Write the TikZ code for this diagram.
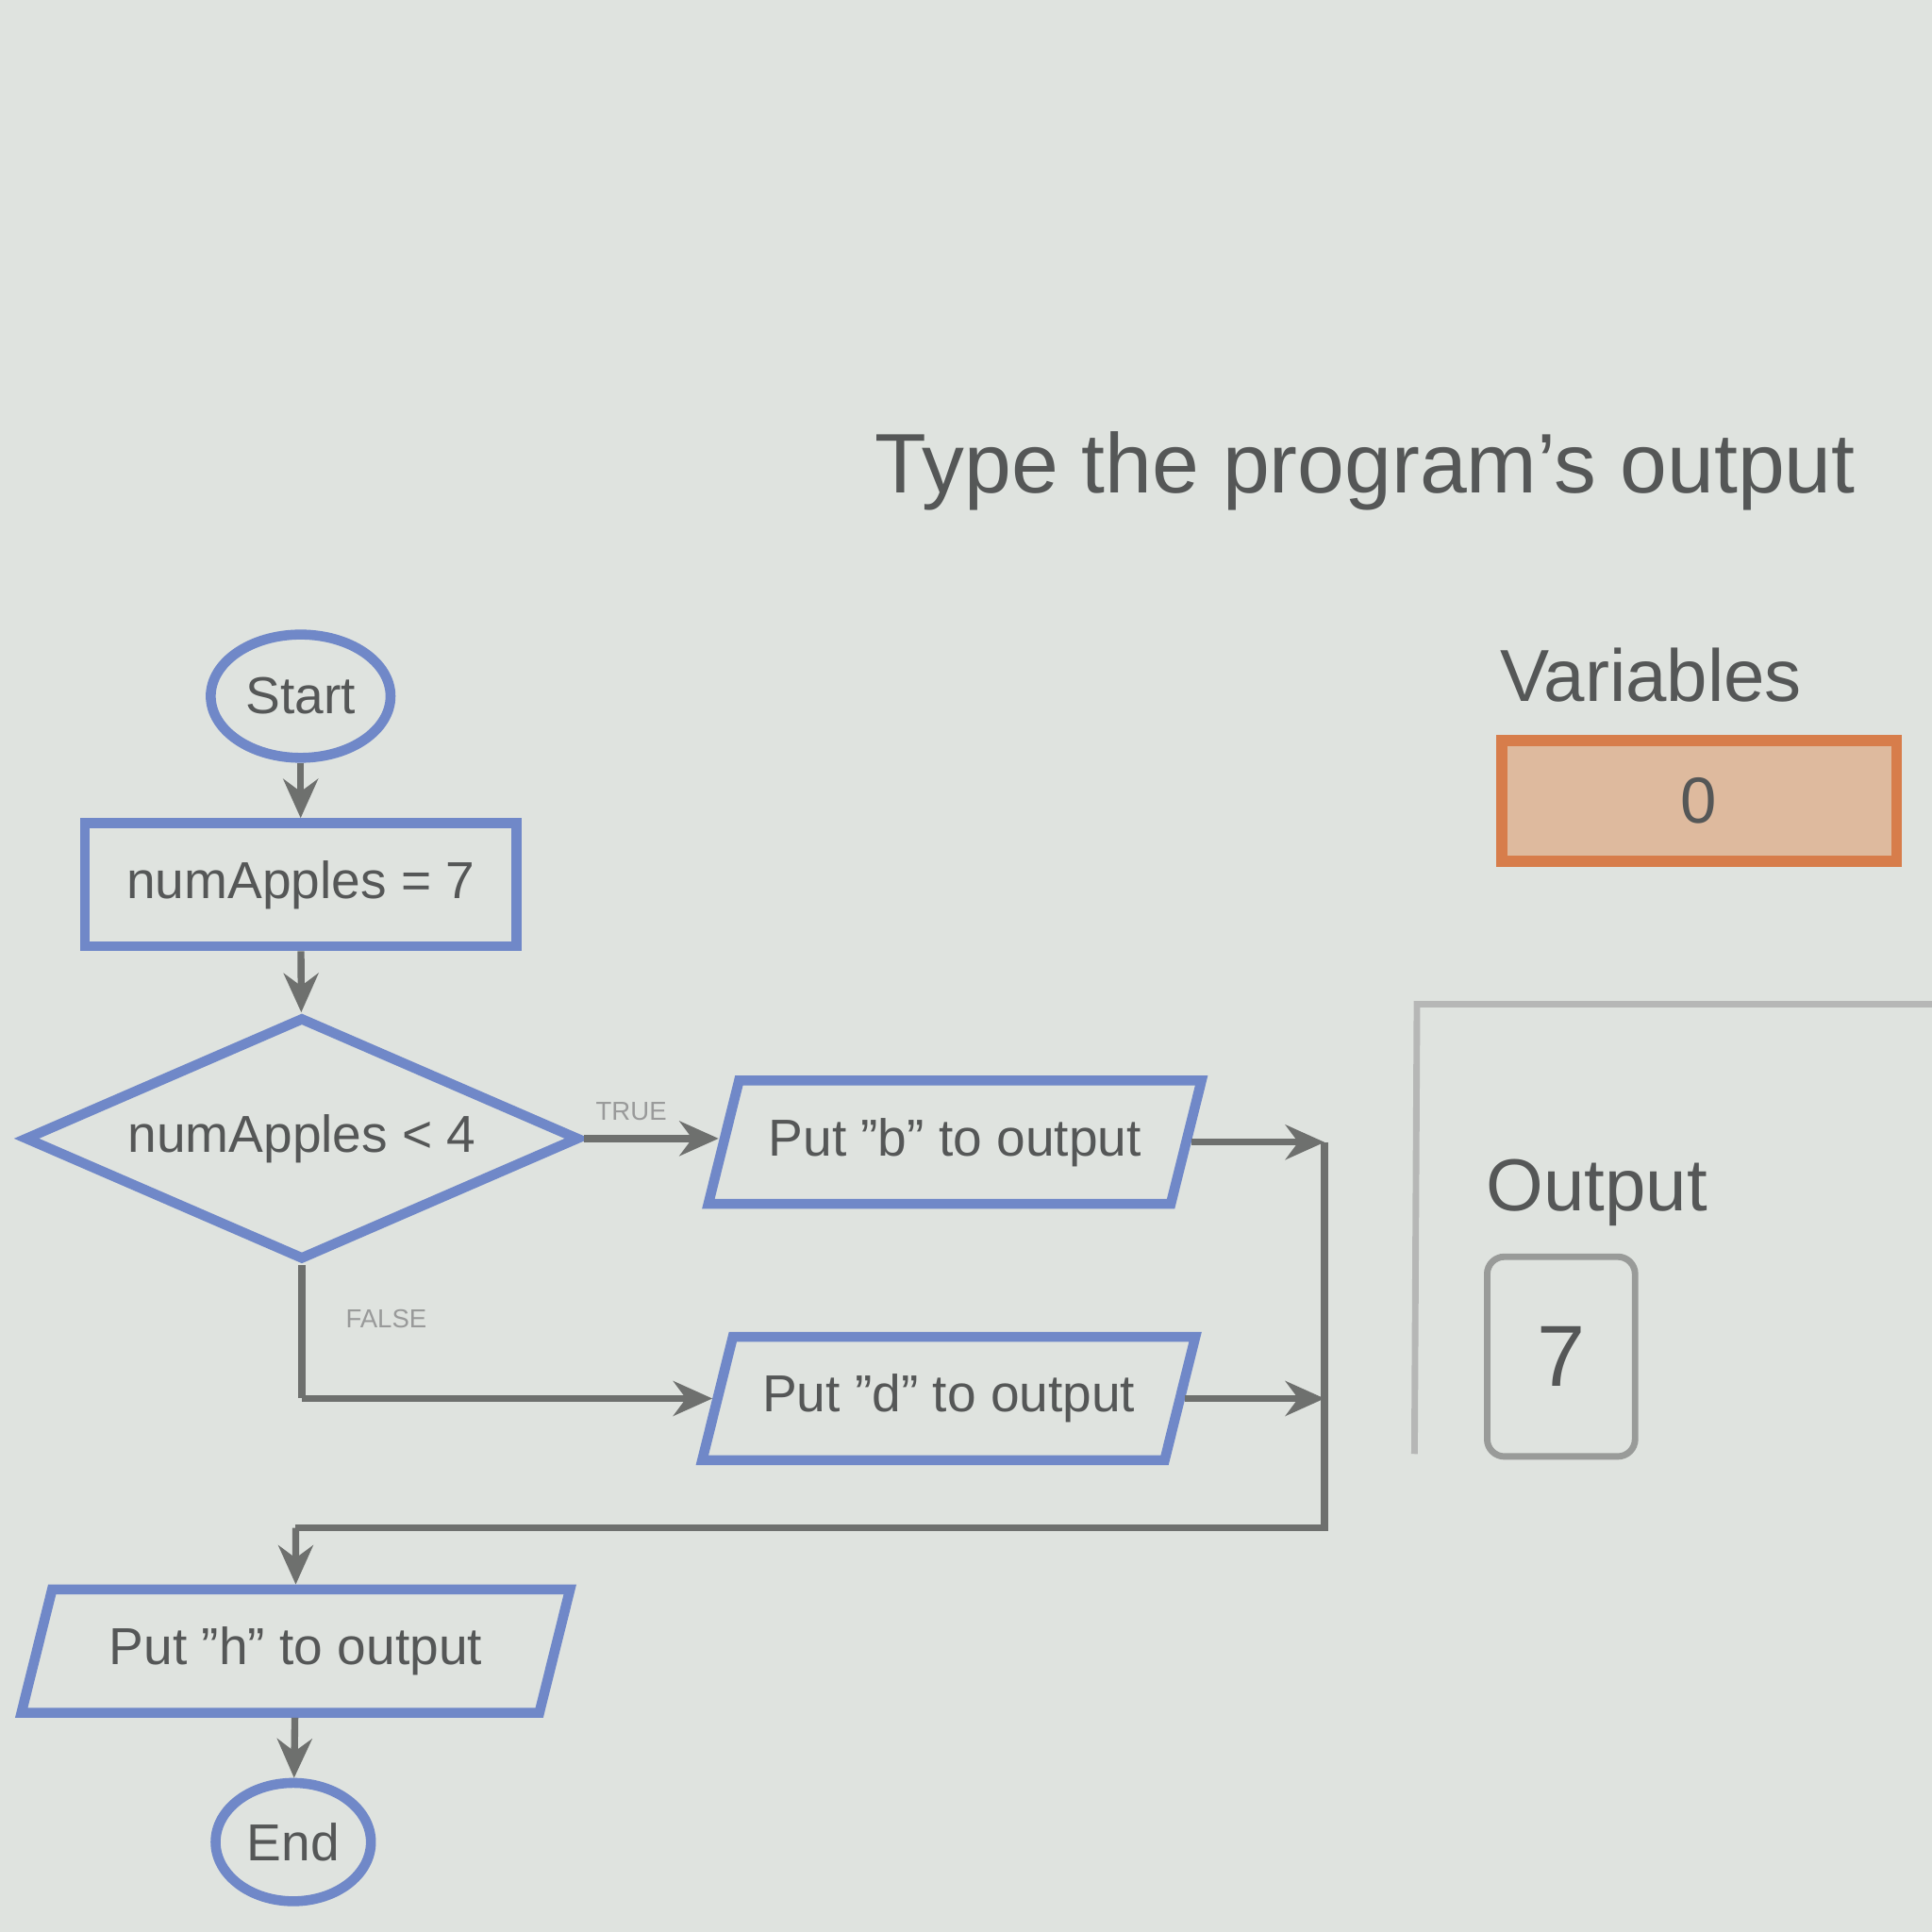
\documentclass[tikz,border=0pt]{standalone}
\usepackage{fontspec}
\setmainfont{Liberation Sans}[Ligatures=ResetAll]
\usetikzlibrary{shapes.geometric,arrows.meta}
\definecolor{bg}{HTML}{DFE3DF}
\definecolor{fb}{HTML}{7088C8}
\definecolor{tx}{HTML}{555757}
\definecolor{ln}{HTML}{6E706E}
\newcommand{\qq}{\symbol{34}}
\tikzset{
  x=0.01cm,y=-0.01cm,
  fl/.style={draw=fb,line width=2.3pt,text=tx,font=\fontsize{12}{14}\selectfont,inner sep=2pt},
  term/.style={fl,ellipse,minimum width=1.38cm,minimum height=1cm},
  proc/.style={fl,rectangle,minimum width=3.5cm,minimum height=1cm},
  dec/.style={fl,diamond,aspect=2.3,minimum width=4.5cm,minimum height=1.97cm,inner sep=0pt},
  io/.style={fl,trapezium,trapezium left angle=65,trapezium right angle=115,trapezium stretches body,minimum width=4.0cm,minimum height=1cm},
  conn/.style={draw=ln,line width=1.6pt,-{Stealth[length=9pt,width=8pt]}},
  seg/.style={draw=ln,line width=1.6pt},
  lbl/.style={text=tx!60,font=\fontsize{6}{7}\selectfont}
}
\begin{document}
\begin{tikzpicture}
\fill[bg] (0,0) rectangle (1568,1568);
\useasboundingbox (0,0) rectangle (1568,1568);
\node[text=tx,font=\fontsize{19.5}{22}\selectfont] (title) at (1108,382) {Type the program's output};
\node[text=tx,font=\fontsize{17}{20}\selectfont] (vars) at (1340,548) {Variables};
\node[draw={rgb,255:red,215;green,125;blue,75},line width=2.5pt,fill={rgb,255:red,222;green,186;blue,158},minimum width=3.2cm,minimum height=0.98cm,text=tx,font=\fontsize{15}{18}\selectfont] (vbox) at (1379,650) {0};
\draw[draw=ln!50,line width=1.5pt] (1148,1180) -- (1150,815) -- (1568,815);
\node[text=tx,font=\fontsize{17}{20}\selectfont] (outl) at (1296,968) {Output};
\node[draw=ln!70,line width=1.5pt,rounded corners=4pt,minimum width=1.2cm,minimum height=1.62cm,text=tx,font=\fontsize{20}{24}\selectfont] (obox) at (1267,1101) {7};

\node[term] (start) at (244,565) {Start};
\node[proc] (init) at (244,718) {numApples = 7};
\node[dec] (cond) at (245,924) {numApples < 4};
\node[io] (pb) at (775,927) {Put \qq b\qq\ to output};
\node[io] (pd) at (770,1135) {Put \qq d\qq\ to output};
\node[io,minimum width=4.45cm] (ph) at (240,1340) {Put \qq h\qq\ to output};
\node[term,minimum width=1.2cm,minimum height=0.96cm] (end) at (238,1495) {End};
\coordinate (j1) at (1075,927);
\coordinate (j2) at (1075,1135);
\coordinate (jb) at (1075,1240);
\coordinate (jh) at (240,1240);
\coordinate (fc) at (245,1135);

\draw[conn] (start) -- (init);
\draw[conn] (init) -- (cond);
\draw[conn] (cond.east) -- node[lbl,above,pos=0.35] (tl) {TRUE} (pb.west |- cond.east);
\draw[seg] (cond.south) -- node[lbl,right,pos=0.4,xshift=6pt] (fl) {FALSE} (fc);
\draw[conn] (fc) -- (pd.west |- fc);
\draw[conn] (pb.east |- j1) -- (j1);
\draw[conn] (pd.east |- j2) -- (j2);
\draw[seg] (j1) -- (jb) -- (jh);
\draw[conn] (jh) -- (ph);
\draw[conn] (ph) -- (end);
\end{tikzpicture}
\end{document}
